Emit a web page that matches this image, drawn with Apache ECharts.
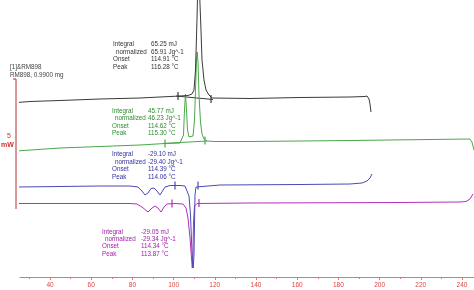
<!DOCTYPE html>
<html><head><meta charset="utf-8">
<script src="https://cdn.jsdelivr.net/npm/echarts@6/dist/echarts.min.js"></script>
<style>html,body{margin:0;padding:0;background:#fff}#c{width:474px;height:290px}</style>
</head><body><div id="c"></div>
<script>
// Temperatures in °C, heat flow in mW (curves offset as in the plot)
const blackT = [21.07,22.04,23.01,23.98,30.29,44.85,64.27,83.69,93.4,103.11,107.0,108.94,109.91,110.64,111.36,112.0,112.6,113.3,113.79,114.76,115.73,117.19,118.64,137.09,161.36,185.63,192.91,193.89,194.86,195.34,195.83];
const blackV = [33.2,34.2,34.6,34.9,35.1,35.3,35.6,35.8,36.0,36.2,36.3,36.6,37.4,41.4,51.4,63.4,63.4,49.4,43.4,39.4,37.4,36.4,35.8,35.7,35.9,36.0,36.1,36.2,35.6,34.6,33.0];
const greenT = [20.58,21.55,22.53,23.5,23.98,44.85,64.27,83.69,95.83,103.11,104.08,104.81,105.29,105.78,106.27,106.75,107.48,108.45,109.42,110.15,110.64,111.12,111.46,111.85,112.33,113.06,113.79,114.76,116.21,120.1,137.09,185.63,243.88,244.85,245.34,245.83];
const greenV = [22.8,23.8,24.6,25.2,25.4,25.8,26.1,26.4,26.7,26.8,26.9,28.4,33.4,36.6,33.4,29.4,28.0,27.7,28.2,31.4,37.4,43.4,45.0,43.0,36.4,31.0,28.6,27.6,27.2,27.1,27.1,27.3,27.6,27.0,26.2,25.4];
const blueT = [20.58,21.55,22.53,23.98,44.85,64.27,78.83,82.72,84.66,86.12,87.57,89.03,90.49,91.94,93.4,94.37,95.83,98.25,103.11,105.54,106.51,107.48,108.21,108.69,109.18,109.52,109.91,110.15,110.39,110.88,111.85,122.53,161.36,185.63,191.46,193.89,195.34,196.31];
const blueV = [20.0,18.8,18.2,18.0,18.1,18.2,18.2,18.0,17.2,16.4,16.8,17.7,17.8,17.2,16.4,16.8,18.0,18.3,18.3,18.2,17.8,16.2,12.4,7.4,3.0,1.8,4.4,10.4,16.4,18.0,18.3,18.4,18.5,18.6,18.8,19.2,19.8,20.6];
const purpleT = [20.58,23.98,44.85,78.83,82.23,84.66,87.57,89.52,90.97,92.43,93.89,95.34,96.8,100.68,104.57,106.02,107.0,107.97,108.69,109.08,109.42,109.66,110.15,111.36,137.09,209.91,239.03,241.94,243.88,245.34];
const purpleV = [14.8,14.7,14.7,14.7,14.6,14.0,13.0,13.8,14.2,13.8,13.0,14.0,14.6,14.7,14.6,13.8,11.8,7.8,3.8,1.8,5.0,11.0,14.2,14.7,14.8,14.9,15.0,15.1,15.6,16.6];
// integration limits
const blackLimT = [102.14,118.16], blackLimV = [36.2,35.6];
const greenLimT = [95.83,115.24], greenLimV = [26.7,27.3];
const blueLimT = [100.68,111.85], blueLimV = [18.3,18.3];
const purpleLimT = [99.22,112.33], purpleLimV = [14.7,14.8];
const blackBaseT = [101.17,119.13], blackBaseV = [36.2,35.5];
const greenBaseT = [94.86,116.21], greenBaseV = [26.7,27.2];
const xLabels = [40,60,80,100,120,140,160,180,200,220,240];
const xMinor = [30,50,70,90,110,130,150,170,190,210,230];
const labels = ['Integral','normalized','Onset','Peak'];
const blackRes = ['65.25 mJ','65.91 Jg^-1','114.91 °C','116.28 °C'];
const greenRes = ['45.77 mJ','46.23 Jg^-1','114.62 °C','115.30 °C'];
const blueRes = ['-29.10 mJ','-29.40 Jg^-1','114.39 °C','114.06 °C'];
const purpleRes = ['-29.05 mJ','-29.34 Jg^-1','114.34 °C','113.87 °C'];

const C = {black:'#3a3a3a', green:'#4aa84a', blue:'#4a4ab8', purple:'#b030b8', red:'#e05050'};
const zip = (a,b)=>a.map((v,i)=>[v,b[i]]);
const FONT = '6.3px "Liberation Sans", Arial, sans-serif';

function line(name, T, V, color, w){
  return {type:'line', name, data:zip(T,V), showSymbol:false, clip:false, animation:false,
    lineStyle:{color, width:w||1}, itemStyle:{color}, silent:true, z:3};
}
function marks(T,V,color){
  return {type:'scatter', data:zip(T,V), symbol:'rect', symbolSize:[1.5,8], clip:false,
    itemStyle:{color}, animation:false, silent:true, z:4};
}
function block(x0, x1, y0, dy, res, color){
  const out=[];
  labels.forEach((l,i)=>{
    out.push({type:'text', x: x0 + (i===1?3:0), y: y0+i*dy, style:{text:l, fill:color, font:FONT, verticalAlign:'middle', textVerticalAlign:'middle'}});
    out.push({type:'text', x: x1, y: y0+i*dy, style:{text:res[i], fill:color, font:FONT, verticalAlign:'middle', textVerticalAlign:'middle'}});
  });
  return out;
}

const chart = echarts.init(document.getElementById('c'), null, {renderer:'canvas'});
chart.setOption({
  animation:false,
  backgroundColor:'#fff',
  grid:{left:20, right:0, top:0, bottom:13, outerBoundsMode:'none', containLabel:false},
  xAxis:[{type:'value', min:25.44, max:245.83, position:'bottom',
    axisLine:{onZero:false, lineStyle:{color:'#ee7070', width:1}},
    axisTick:{customValues:xLabels, length:3, lineStyle:{color:'#ee7070'}},
    axisLabel:{customValues:xLabels, color:'#e04040', fontSize:6.5, margin:5, fontFamily:'Liberation Sans, Arial'},
    splitLine:{show:false}},
   {type:'value', min:25.44, max:245.83, position:'bottom',
    axisLine:{show:false, onZero:false},
    axisTick:{customValues:xMinor, length:2, lineStyle:{color:'#ee7070'}},
    axisLabel:{show:false}, splitLine:{show:false}}],
  yAxis:{type:'value', min:0, max:55.4, show:false, splitLine:{show:false}},
  series:[
    line('base1', blackBaseT, blackBaseV, C.black),
    line('base2', greenBaseT, greenBaseV, C.green),
    line('purple', purpleT, purpleV, C.purple),
    line('blue', blueT, blueV, C.blue),
    line('green', greenT, greenV, C.green),
    line('black', blackT, blackV, C.black),
    marks(blackLimT, blackLimV, C.black),
    marks(greenLimT, greenLimV, C.green),
    marks(blueLimT, blueLimV, C.blue),
    marks(purpleLimT, purpleLimV, C.purple)
  ],
  graphic:[
    {type:'line', shape:{x1:16,y1:79,x2:16,y2:209}, style:{stroke:'#b03030', lineWidth:1}},
    {type:'line', shape:{x1:13,y1:79,x2:16,y2:79}, style:{stroke:'#b03030', lineWidth:1}},
    {type:'text', x:9, y:136, style:{text:'5', fill:'#d03030', font:'7px "Liberation Sans", Arial', align:'center', textAlign:'center', verticalAlign:'middle', textVerticalAlign:'middle'}},
    {type:'text', x:1, y:145, style:{text:'mW', fill:'#d03030', font:'bold 7px "Liberation Sans", Arial', verticalAlign:'middle', textVerticalAlign:'middle'}},
    {type:'text', x:10, y:67, style:{text:'[1]&RM898', fill:'#444', font:FONT, verticalAlign:'middle', textVerticalAlign:'middle'}},
    {type:'text', x:10, y:75, style:{text:'RM898, 0.9900 mg', fill:'#444', font:FONT, verticalAlign:'middle', textVerticalAlign:'middle'}},
    ...block(113,151,44.5,7.6,blackRes,'#333'),
    ...block(112,148,111,7.4,greenRes,'#2e8b2e'),
    ...block(112,148,154.5,7.5,blueRes,'#3030a0'),
    ...block(102,141,232,7.3,purpleRes,'#a020a8')
  ]
});
</script></body></html>
